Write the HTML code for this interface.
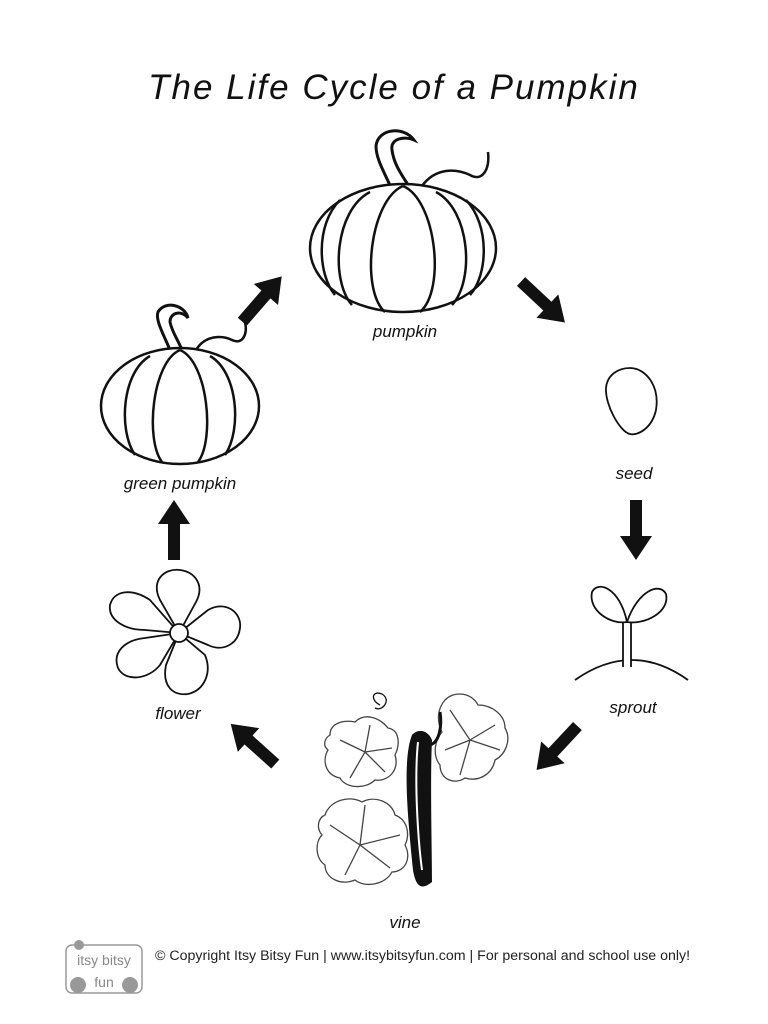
<!DOCTYPE html>
<html><head><meta charset="utf-8"><style>
html,body{margin:0;padding:0;background:#fff}
svg{display:block}
.t{font-family:"Liberation Sans",sans-serif;fill:#111}
</style></head><body>
<svg width="768" height="1024" viewBox="0 0 768 1024" xmlns="http://www.w3.org/2000/svg">
<defs>
<g id="arr"><polygon points="-30,-6 6,-6 6,-16 30,0 6,16 6,6 -30,6" fill="#111"/></g>
</defs>
<text x="394" y="99" text-anchor="middle" class="t" font-size="35" font-style="italic" letter-spacing="2">The Life Cycle of a Pumpkin</text>

<!-- big pumpkin -->
<g fill="#fff" stroke="#111" stroke-width="2.5">
<path d="M392,190 C386,175 376,160 376,146 C378,128 404,126 414,140 C405,136 390,138 392,150 C394,165 402,175 410,188 Z" stroke-width="3"/>
<path d="M422,186 C435,168 455,168 470,175 C482,182 490,170 488,152" fill="none"/>
<ellipse cx="403" cy="248" rx="93" ry="64"/>
<path d="M403,186 C370,200 360,290 385,312" fill="none"/>
<path d="M403,186 C436,200 446,290 420,312" fill="none"/>
<path d="M370,192 C335,210 330,280 352,305" fill="none"/>
<path d="M436,192 C470,210 475,280 452,305" fill="none"/>
<path d="M340,200 C315,225 318,275 335,295" fill="none"/>
<path d="M466,200 C490,225 488,275 470,295" fill="none"/>
</g>
<text x="405" y="337" text-anchor="middle" class="t" font-size="17" font-style="italic">pumpkin</text>

<use href="#arr" transform="translate(262,299) rotate(-49)"/>
<use href="#arr" transform="translate(543,302) rotate(43)"/>

<!-- seed -->
<path d="M630,368 C645,368 660,385 656,410 C652,428 638,436 630,434 C620,432 605,405 606,388 C607,375 618,368 630,368 Z" fill="#fff" stroke="#111" stroke-width="1.8"/>
<text x="634" y="479" text-anchor="middle" class="t" font-size="17" font-style="italic">seed</text>

<use href="#arr" transform="translate(636,530) rotate(90)"/>

<!-- sprout -->
<g fill="#fff" stroke="#111" stroke-width="1.8">
<path d="M575,680 Q632,640 688,680" fill="none"/>
<path d="M623,667 L623,622 L631,622 L631,667"/>
<path d="M627,622 C610,625 588,610 592,592 C598,580 620,588 627,622 Z"/>
<path d="M627,622 C645,625 670,612 666,594 C660,582 638,590 627,622 Z"/>
</g>
<text x="633" y="713" text-anchor="middle" class="t" font-size="17" font-style="italic">sprout</text>

<use href="#arr" transform="translate(557,748) rotate(133)"/>

<!-- vine -->
<g fill="#fff" stroke="#444" stroke-width="1.3">
<path d="M330,735 C330,722 345,720 355,722 C365,712 380,718 388,728 C400,730 400,745 395,755 C400,770 388,782 375,780 C365,790 345,788 340,778 C325,775 322,760 328,750 C322,745 325,738 330,735 Z"/>
<path d="M445,700 C455,690 472,693 478,705 C492,705 505,715 505,728 C512,740 505,755 495,760 C492,775 478,782 465,778 C455,785 440,780 440,765 C432,755 435,740 442,732 C436,720 438,708 445,700 Z"/>
<path d="M325,815 C330,800 350,795 362,802 C375,795 392,802 395,815 C408,820 410,835 405,845 C412,858 405,872 392,872 C385,885 365,888 355,880 C340,886 325,878 325,865 C315,858 315,842 322,835 C316,828 318,818 325,815 Z"/>
<path d="M365,752 L340,740 M365,752 L370,725 M365,752 L392,748 M365,752 L350,778 M365,752 L385,772" fill="none"/>
<path d="M470,740 L450,710 M470,740 L495,725 M470,740 L500,750 M470,740 L460,775 M470,740 L445,750" fill="none"/>
<path d="M360,845 L330,825 M360,845 L365,805 M360,845 L400,835 M360,845 L345,875 M360,845 L390,868" fill="none"/>
<path d="M380,705 C370,700 372,690 382,694 C392,700 382,712 375,708" fill="none" stroke="#111"/>
</g>
<path d="M412,735 C402,760 408,820 413,870 C416,888 422,890 432,882 C432,850 430,780 432,740 C428,730 418,728 412,735 Z" fill="#111"/>
<path d="M418,742 C414,780 418,840 422,870" stroke="#fff" stroke-width="2" fill="none"/>
<path d="M430,745 C440,742 442,725 440,712" stroke="#111" stroke-width="3" fill="none"/>
<text x="405" y="928" text-anchor="middle" class="t" font-size="17" font-style="italic">vine</text>

<use href="#arr" transform="translate(253,744) rotate(-138)"/>

<!-- flower -->
<g fill="#fff" stroke="#111" stroke-width="1.8">
<path d="M179,633 L160,600 C150,580 165,568 180,570 C195,572 205,585 196,602 Z"/>
<path d="M179,633 L208,610 C225,600 242,612 240,628 C238,645 222,652 208,645 Z"/>
<path d="M179,633 L205,655 C212,672 205,690 188,694 C172,696 162,685 166,665 Z"/>
<path d="M179,633 L160,665 C148,680 125,682 118,668 C112,652 125,640 145,638 Z"/>
<path d="M179,633 L145,630 C125,630 108,620 110,605 C114,590 132,588 150,600 Z"/>
<circle cx="179" cy="633" r="9"/>
</g>
<text x="178" y="719" text-anchor="middle" class="t" font-size="17" font-style="italic">flower</text>

<use href="#arr" transform="translate(174,530) rotate(-90)"/>

<!-- green pumpkin -->
<g fill="#fff" stroke="#111" stroke-width="2.5">
<path d="M170,350 C164,335 155,320 158,312 C165,300 185,305 188,318 C182,310 170,312 170,322 C172,332 178,340 182,350 Z" stroke-width="3"/>
<path d="M196,350 C205,335 222,335 232,340 C242,345 248,335 245,322" fill="none"/>
<ellipse cx="180" cy="406" rx="79" ry="58"/>
<path d="M180,350 C152,362 145,440 162,462" fill="none"/>
<path d="M180,350 C208,362 215,440 198,462" fill="none"/>
<path d="M150,356 C122,372 118,430 135,455" fill="none"/>
<path d="M210,356 C238,372 242,430 225,455" fill="none"/>
</g>
<text x="180" y="489" text-anchor="middle" class="t" font-size="17" font-style="italic">green pumpkin</text>

<!-- footer -->
<rect x="66" y="945" width="76" height="48" rx="6" fill="#fff" stroke="#999" stroke-width="1.5"/>
<circle cx="78" cy="985" r="8" fill="#999"/><circle cx="130" cy="985" r="8" fill="#999"/>
<circle cx="79" cy="945" r="5" fill="#999"/>
<text x="104" y="965" text-anchor="middle" font-family="Liberation Sans,sans-serif" font-size="14" fill="#888">itsy bitsy</text>
<text x="104" y="987" text-anchor="middle" font-family="Liberation Sans,sans-serif" font-size="14" fill="#888">fun</text>
<text x="155" y="960" font-family="Liberation Sans,sans-serif" font-size="14.2" fill="#222">© Copyright Itsy Bitsy Fun | www.itsybitsyfun.com | For personal and school use only!</text>
</svg>
</body></html>
